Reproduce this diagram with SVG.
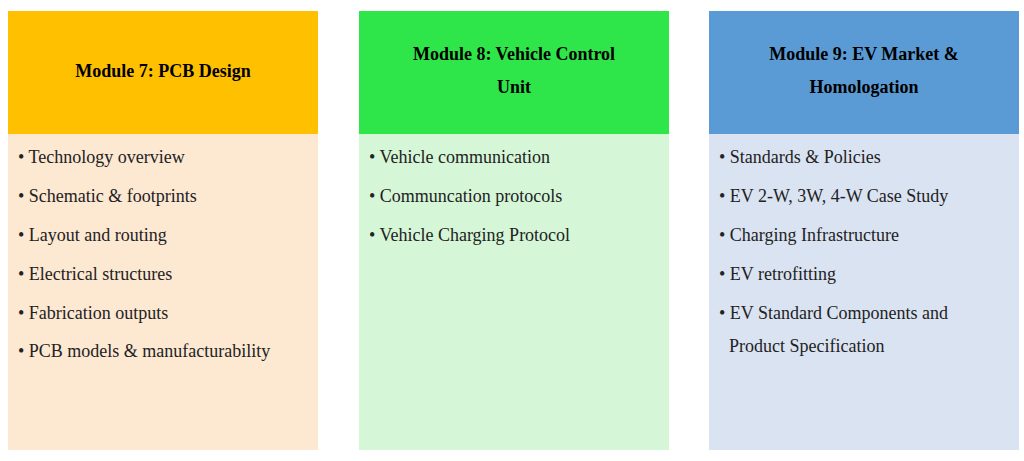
<svg xmlns="http://www.w3.org/2000/svg" width="1024" height="461" viewBox="0 0 1024 461">
<style>
.h{font-family:"Liberation Serif","DejaVu Serif",serif;font-weight:bold;font-size:18px;fill:#000;text-anchor:middle}
.t{font-family:"Liberation Serif","DejaVu Serif",serif;font-size:18px;fill:#222}
</style>
<rect width="1024" height="461" fill="#fff"/>
<g id="module7">
<rect x="8" y="11" width="310" height="123" fill="#FFC000"/>
<rect x="8" y="134" width="310" height="316" fill="#FDE8D2"/>
<text class="h" x="163" y="77">Module 7: PCB Design</text>
<text class="t" x="18" y="163">• Technology overview</text>
<text class="t" x="18" y="202">• Schematic &amp; footprints</text>
<text class="t" x="18" y="241">• Layout and routing</text>
<text class="t" x="18" y="280">• Electrical structures</text>
<text class="t" x="18" y="319">• Fabrication outputs</text>
<text class="t" x="18" y="357">• PCB models &amp; manufacturability</text>
</g>
<g id="module8">
<rect x="359" y="11" width="310" height="123" fill="#2EE64A"/>
<rect x="359" y="134" width="310" height="316" fill="#D5F7D7"/>
<text class="h" x="514" y="60">Module 8: Vehicle Control</text>
<text class="h" x="514" y="93">Unit</text>
<text class="t" x="369" y="163">• Vehicle communication</text>
<text class="t" x="369" y="202">• Communcation protocols</text>
<text class="t" x="369" y="241">• Vehicle Charging Protocol</text>
</g>
<g id="module9">
<rect x="709" y="11" width="310" height="123" fill="#5B9BD5"/>
<rect x="709" y="134" width="310" height="316" fill="#DAE3F2"/>
<text class="h" x="864" y="60">Module 9: EV Market &amp;</text>
<text class="h" x="864" y="93">Homologation</text>
<text class="t" x="719" y="163">• Standards &amp; Policies</text>
<text class="t" x="719" y="202">• EV 2-W, 3W, 4-W Case Study</text>
<text class="t" x="719" y="241">• Charging Infrastructure</text>
<text class="t" x="719" y="280">• EV retrofitting</text>
<text class="t" x="719" y="319">• EV Standard Components and</text>
<text class="t" x="729" y="352">Product Specification</text>
</g>
<g id="connectors"/>
</svg>
